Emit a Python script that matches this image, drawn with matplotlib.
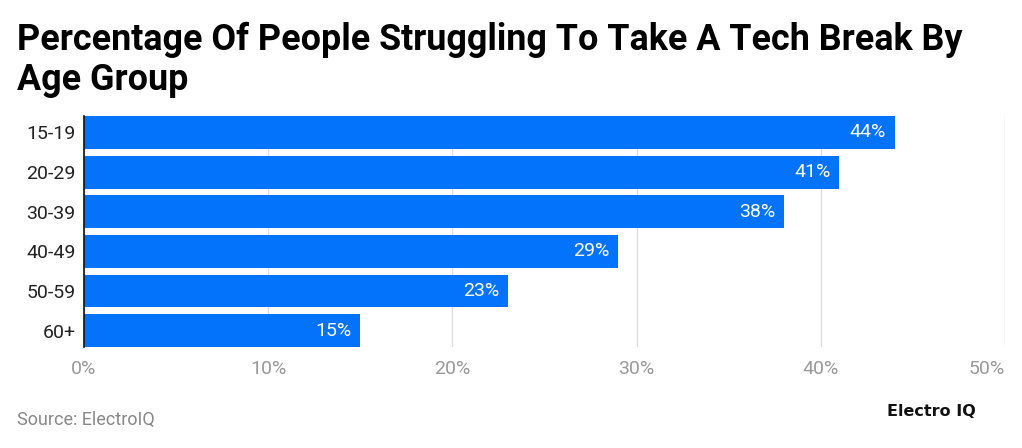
import matplotlib.pyplot as plt
from matplotlib.ticker import FuncFormatter

plt.rcParams['font.family'] = ['Roboto', 'DejaVu Sans']

age_groups = ['15-19', '20-29', '30-39', '40-49', '50-59', '60+']
shares = [44, 41, 38, 29, 23, 15]
x_ticks = [0, 10, 20, 30, 40, 50]

fig = plt.figure(figsize=(10.22, 4.48), dpi=100)
ax = fig.add_axes([0.0822, 0.2254, 0.9012, 0.5156])

y = list(range(len(age_groups)))
ax.barh(y, shares, height=0.83, color='#0473fb', zorder=3)

for yi, v in zip(y, shares):
    ax.text(v - 0.45, yi, f'{v}%', color='white', ha='right', va='center',
            fontsize=14, zorder=4)

ax.set_xlim(0, 50)
ax.set_ylim(5.415, -0.415)
ax.set_yticks(y)
ax.set_yticklabels(age_groups, fontsize=14, color='#222222')
ax.set_xticks(x_ticks)
ax.xaxis.set_major_formatter(FuncFormatter(lambda v, p: f'{v:.0f}%'))
ax.tick_params(axis='x', colors='#999999', labelsize=14, length=0, pad=9)
ax.tick_params(axis='y', length=0, pad=6)
ax.get_xticklabels()[-1].set_horizontalalignment('right')
ax.grid(axis='x', color='#dddddd', linewidth=1, zorder=0)
for s in ['top', 'right', 'bottom']:
    ax.spines[s].set_visible(False)
ax.spines['left'].set_color('#111111')
ax.spines['left'].set_linewidth(1.2)
ax.spines['left'].set_zorder(5)

fig.text(0.017, 1 - 50 / 448, 'Percentage Of People Struggling To Take A Tech Break By',
         fontsize=25.8, fontweight='bold', color='#000000', va='baseline', ha='left')
fig.text(0.017, 1 - 90 / 448, 'Age Group',
         fontsize=25.8, fontweight='bold', color='#000000', va='baseline', ha='left')
fig.text(0.017, 0.062, 'Source: ElectroIQ', fontsize=13, color='#888888', va='center')
fig.text(0.955, 0.082, 'Electro IQ', fontsize=11.5, fontweight='bold', color='#111111',
         va='center', ha='right', family=['DejaVu Sans'])

fig.savefig('out.png', dpi=100)
